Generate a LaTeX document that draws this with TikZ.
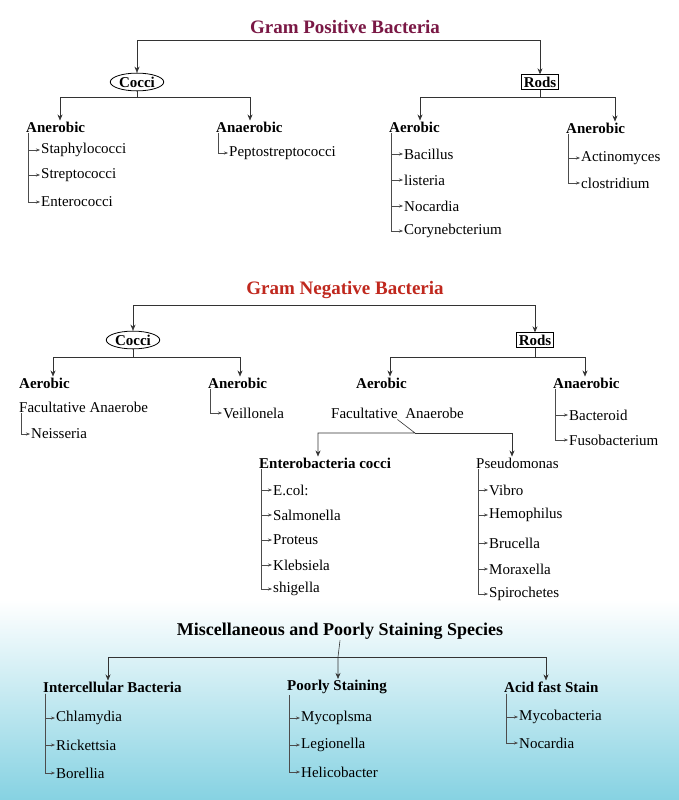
\documentclass[tikz,border=0pt]{standalone}
\usepackage{fontspec}
\setmainfont{Liberation Serif}
\usetikzlibrary{shapes,arrows.meta,positioning,calc}

\definecolor{posred}{HTML}{7A1845}
\definecolor{negred}{HTML}{C0281E}
\definecolor{seacyan}{HTML}{86D2E2}

% list of species hanging from a header
\newcommand{\leaflist}[4]{%
  \foreach \txt/\yy [count=\i] in {#4} {
    \node[leaf] (#2\i) at (#3,\yy) {\txt};
    \draw[twig] ([xshift=3pt]#1.south west) |- (#2\i.west);
  }}

\begin{document}
\begin{tikzpicture}[
    x=1pt, y=-1pt,
    title/.style={font=\fontsize{19}{22}\selectfont\bfseries, inner sep=1pt},
    group/.style={anchor=west, font=\fontsize{15}{18}\selectfont\bfseries, inner sep=1pt},
    plain/.style={anchor=west, font=\fontsize{15}{18}\selectfont, inner sep=1pt},
    leaf/.style={anchor=west, font=\fontsize{15}{18}\selectfont, inner sep=1pt},
    oval/.style={ellipse, draw, thick, font=\fontsize{15}{18}\selectfont\bfseries, inner sep=1pt},
    boxed/.style={rectangle, draw, thick, font=\fontsize{15}{18}\selectfont\bfseries, inner sep=2pt},
    branch/.style={-{Stealth[length=6pt,width=5pt]}, draw=black!80, semithick},
    twig/.style={-{Stealth[length=4pt,width=3pt]}, draw=black!70, thin}
]
\useasboundingbox (0,0) rectangle (679,800);
\fill[white] (0,0) rectangle (679,600);
\shade[top color=white, bottom color=seacyan] (0,600) rectangle (679,800);

% Gram positive
\node[title, text=posred] (gp) at (345,27) {Gram Positive Bacteria};
\node[oval] (gpc) at (137,82) {Cocci};
\node[boxed] (gpr) at (540,82) {Rods};
\coordinate (gpbar) at (345,40);
\draw[branch] (gpbar) -| (gpc.north);
\draw[branch] (gpbar) -| (gpr.north);

\node[group] (gpca) at (25,127) {Anerobic};
\node[group] (gpcb) at (215,127) {Anaerobic};
\coordinate (gpcbar) at (137,97);
\draw[branch] (gpc.south) -- (gpcbar) -| ([xshift=35pt]gpca.north west);
\draw[branch] (gpcbar) -| ([xshift=35pt]gpcb.north west);
\leaflist{gpca}{gpcaL}{40}{Staphylococci/150, Streptococci/175, Enterococci/202}
\leaflist{gpcb}{gpcbL}{228}{Peptostreptococci/153}

\node[group] (gpra) at (388,127) {Aerobic};
\node[group] (gprb) at (565,128) {Anerobic};
\coordinate (gprbar) at (540,97);
\draw[branch] (gpr.south) -- (gprbar) -| ([xshift=32pt]gpra.north west);
\draw[branch] (gprbar) -| ([xshift=50pt]gprb.north west);
\leaflist{gpra}{gpraL}{403}{Bacillus/154, listeria/180, Nocardia/206, Corynebcterium/231}
\leaflist{gprb}{gprbL}{580}{Actinomyces/158, clostridium/183}

% Gram negative
\node[title, text=negred] (gn) at (345,290) {Gram Negative Bacteria};
\node[oval] (gnc) at (133,340) {Cocci};
\node[boxed] (gnr) at (535,340) {Rods};
\coordinate (gnbar) at (345,305);
\draw[branch] (gnbar) -| (gnc.north);
\draw[branch] (gnbar) -| (gnr.north);

\node[group] (gnca) at (18,383) {Aerobic};
\node[plain] (gncf) at (18,407) {Facultative Anaerobe};
\node[group] (gncb) at (207,383) {Anerobic};
\coordinate (gncbar) at (133,357);
\draw[branch] (gnc.south) -- (gncbar) -| ([xshift=35pt]gnca.north west);
\draw[branch] (gncbar) -| ([xshift=33pt]gncb.north west);
\leaflist{gncf}{gncfL}{30}{Neisseria/434}
\leaflist{gncb}{gncbL}{222}{Veillonela/413}

\node[group] (gnra) at (355,383) {Aerobic};
\node[plain] (gnrf) at (330,413) {Facultative~~Anaerobe};
\node[group] (gnrb) at (552,383) {Anaerobic};
\coordinate (gnrbar) at (535,357);
\draw[branch] (gnr.south) -- (gnrbar) -| ([xshift=35pt]gnra.north west);
\draw[branch] (gnrbar) -| ([xshift=33pt]gnrb.north west);
\leaflist{gnrb}{gnrbL}{568}{Bacteroid/415, Fusobacterium/440}

\node[group] (gnre) at (258,463) {Enterobacteria cocci};
\node[plain] (gnrp) at (475,463) {Pseudomonas};
\coordinate (gnrfbar) at (415,433);
\draw[branch] (gnrf.south) -- (gnrfbar) -| ([xshift=60pt]gnre.north west);
\draw[branch] (gnrfbar) -| ([xshift=37pt]gnrp.north west);
\leaflist{gnre}{gnreL}{272}{E.col:/490, Salmonella/515, Proteus/540, Klebsiela/565, shigella/589}
\leaflist{gnrp}{gnrpL}{488}{Vibro/490, Hemophilus/515, Brucella/543, Moraxella/569, Spirochetes/594}

% Miscellaneous
\node[title, font=\fontsize{18}{21}\selectfont\bfseries] (ms) at (340,631) {Miscellaneous and Poorly Staining Species};
\node[group] (msa) at (42,687) {Intercellular Bacteria};
\node[group] (msb) at (286,687) {Poorly Staining};
\node[group] (msc) at (503,687) {Acid fast Stain};
\coordinate (msbar) at (338,657);
\draw[branch] (msbar) -| ([xshift=66pt]msa.north west);
\draw[branch] (ms.south) -- (msbar) -- ([xshift=52pt]msb.north west);
\draw[branch] (msbar) -| ([xshift=43pt]msc.north west);
\leaflist{msa}{msaL}{55}{Chlamydia/718, Rickettsia/745, Borellia/773}
\leaflist{msb}{msbL}{300}{Mycoplsma/718, Legionella/745, Helicobacter/772}
\leaflist{msc}{mscL}{518}{Mycobacteria/717, Nocardia/743}
\end{tikzpicture}
\end{document}
